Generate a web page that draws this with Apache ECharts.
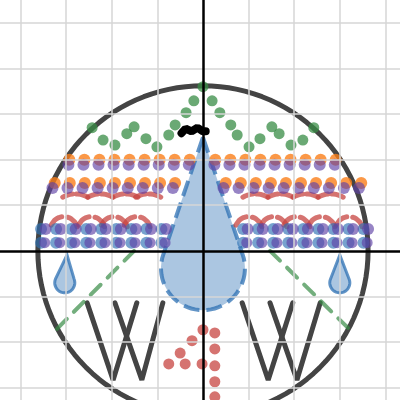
<![CDATA[<!DOCTYPE html><html><head><meta charset="utf-8"><script src="https://cdn.jsdelivr.net/npm/echarts@6/dist/echarts.min.js"></script>
<style>html,body{margin:0;padding:0;background:#fff}#c{width:400px;height:400px}</style></head><body><div id="c"></div><script>
const gridX=[-4,-3,-2,-1,1,2,3,4];
const gridY=[-3,-2,-1,1,2,3,4,5];
const circleR=3.62;
const greenDotsLeft=[[-2.43,2.70],[-2.19,2.43],[-1.93,2.32],[-1.67,2.57],[-1.51,2.72],[-1.25,2.46],[-1.01,2.28],[-0.75,2.54],[-0.61,2.76],[-0.37,3.03],[-0.20,3.29],[0,3.60]];
const row1Left=[-2.95,-2.62,-2.29,-1.96,-1.63,-1.30,-0.97,-0.64,-0.31];
const row1Right=[0.25,0.58,0.91,1.24,1.57,1.90,2.23,2.56,2.89];
const row2Left=[-3.3,-2.97,-2.64,-2.31,-1.98,-1.65,-1.32,-0.99,-0.66];
const row2Right=[0.45,0.78,1.11,1.44,1.77,2.10,2.43,2.76,3.09,3.42];
const lowLeft=[-3.55,-3.22,-2.89,-2.56,-2.23,-1.90,-1.57,-1.24,-0.91];
const lowRight=[0.88,1.21,1.54,1.87,2.20,2.53,2.86,3.19,3.52];
const rowY={orange1:2.0,purple1:1.89,orange2:1.49,purple2:1.38,low1:0.48,low2:0.18};
const humpXs=[-2.8,-2.25,-1.7,-1.2,1.15,1.7,2.25,2.8];
const archXs=[-3.05,-2.45,-1.95,-1.45,1.0,1.55,2.05,2.6,3.2];
const wLines=[[[-2.54,-1.14],[-1.97,-2.83],[-1.45,-1.14]],[[-1.93,-1.14],[-1.34,-2.83],[-0.88,-1.14]],
 [[0.86,-1.14],[1.43,-2.83],[1.97,-1.14]],[[1.47,-1.14],[2.06,-2.83],[2.57,-1.14]]];
const greenDash=[[[-3.2,-1.71],[-1.51,0]],[[1.47,0],[3.18,-1.69]]];
const redFour=[[0,-1.73],[0.26,-1.8],[-0.24,-1.97],[0.26,-2.15],[-0.5,-2.24],[-0.75,-2.48],[-0.39,-2.48],[-0.02,-2.48],[0.26,-2.52],[0.26,-2.87],[0.26,-3.2]];
const drops=[[0,2.49,0,-0.38,0.92,4],[-2.98,-0.09,-3.03,-0.70,0.22,3],[3.0,-0.09,3.0,-0.70,0.22,3]];
const scribble=[[-0.47,2.58],[-0.38,2.68],[-0.25,2.62],[-0.12,2.7],[0.0,2.62],[0.06,2.62]];

const arc=(cx,cy,r,a0,a1,n)=>{const p=[];for(let i=0;i<=n;i++){const a=(a0+(a1-a0)*i/n)*Math.PI/180;p.push([cx+r*Math.cos(a),cy+r*Math.sin(a)]);}return p;};
const series=[];
const ln=(data,color,width,type,op)=>series.push({type:'line',data,symbol:'none',silent:true,lineStyle:{color,width,type:type||'solid',opacity:op==null?1:op,cap:'round'},z:3});
const sc=(data,color,size,op,z)=>series.push({type:'scatter',data,symbolSize:size,silent:true,itemStyle:{color,opacity:op},z:z||4});
series.push({type:'line',data:[],markLine:{silent:true,symbol:'none',label:{show:false},lineStyle:{color:'#d6d6d6',width:1.5,type:'solid'},
 data:gridX.map(v=>({xAxis:v})).concat(gridY.map(v=>({yAxis:v})))},z:1});
series.push({type:'line',data:[],markLine:{silent:true,symbol:'none',label:{show:false},lineStyle:{color:'#000',width:2.5,type:'solid'},
 data:[{xAxis:0},{yAxis:0}]},z:2});
series.push({type:'custom',data:drops,silent:true,z:3,renderItem:(params,api)=>{
 const ax=api.value(0),ay=api.value(1),cx=api.value(2),cy=api.value(3),r=api.value(4),w=api.value(5);
 const d=Math.hypot(ax-cx,ay-cy),b=Math.acos(r/d)*180/Math.PI;
 const pts=[[ax,ay]].concat(arc(cx,cy,r,90+b,450-b,40)).concat([[ax,ay]]).map(p=>api.coord(p));
 return {type:'polygon',shape:{points:pts},style:{fill:'rgba(45,112,179,0.4)',stroke:'rgba(45,112,179,0.75)',lineWidth:w,lineDash:w>3?[16,7]:null}};
}});
ln(arc(0,0,circleR,0,360,120),'#444',5);
wLines.forEach(w=>ln(w,'#444',5));
greenDash.forEach(g=>ln(g,'#388c46',4,[14,10],0.7));
humpXs.forEach(x=>ln(arc(x,0.7,0.55,60,120,10),'#c74440',5,[12,4],0.75));
archXs.forEach(x=>ln(arc(x,0.45,0.3,15,165,14),'#c74440',5,[14,6],0.75));
ln(scribble,'#000',8);
const gd=greenDotsLeft.concat(greenDotsLeft.filter(p=>p[0]!==0).map(p=>[-p[0],p[1]]));
sc(gd,'#388c46',11,0.75);
const r1=row1Left.concat(row1Right), r2=row2Left.concat(row2Right), lw=lowLeft.concat(lowRight);
sc(r1.map(x=>[x+0.02,rowY.orange1]),'#fa7e19',12,0.8);
sc(r1.map(x=>[x,rowY.purple1]),'#6042a6',12,0.65);
sc(r2.map(x=>[x+0.05,rowY.orange2]),'#fa7e19',12,0.8);
sc(r2.map(x=>[x,rowY.purple2]),'#6042a6',12,0.65);
sc(lw.map(x=>[x,rowY.low1]),'#2d70b3',12,0.65);
sc(lw.map(x=>[x+0.1,rowY.low1]),'#6042a6',12,0.65);
sc(lw.map(x=>[x,rowY.low2]),'#2d70b3',12,0.65);
sc(lw.map(x=>[x+0.08,rowY.low2]),'#6042a6',11,0.65);
sc(redFour,'#c74440',11,0.75);
const ch=echarts.init(document.getElementById('c'));
ch.setOption({animation:false,grid:{left:0,right:0,top:0,bottom:0},
 xAxis:{type:'value',min:-4.45,max:4.32,show:false,splitLine:{show:false}},
 yAxis:{type:'value',min:-3.27,max:5.5,show:false,splitLine:{show:false}},series});
</script></body></html>]]>
